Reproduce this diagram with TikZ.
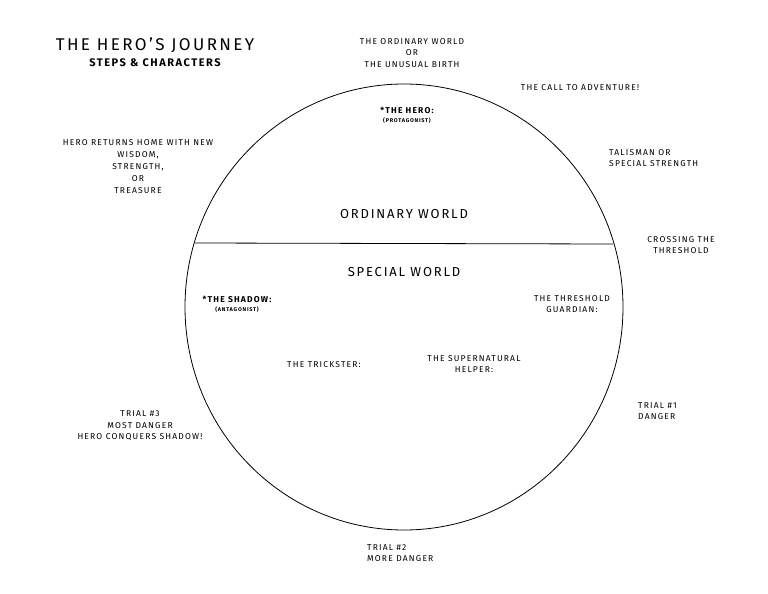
\documentclass[tikz,border=0pt]{standalone}
\usepackage{fontspec}
\setmainfont{Fira Sans}[LetterSpace=14]
\usetikzlibrary{positioning}
\begin{document}
\begin{tikzpicture}[
    x=1pt, y=-1pt,
    note/.style={font=\fontsize{8.5}{11.5}\selectfont, align=center, inner sep=0pt},
    role/.style={font=\fontsize{8.5}{10}\selectfont\bfseries, align=center, inner sep=0pt},
    sub/.style={font=\fontsize{5.5}{6}\selectfont\bfseries, inner sep=0pt},
    world/.style={font=\fontsize{13}{15}\selectfont, inner sep=0pt}
]
    \useasboundingbox (0,0) rectangle (768,594);
    % Circle and divider
    \draw[thick] (404,307) ellipse (219 and 223);
    \coordinate (divl) at (195,243);
    \coordinate (divr) at (613,244);
    \draw[thick] (divl) -- (divr);

    % Title
    \node[inner sep=0pt, font=\fontsize{17}{19}\selectfont] (title) at (155,45) {THE HERO'S JOURNEY};
    \node[inner sep=0pt, font=\fontsize{11}{13}\selectfont\bfseries] (subtitle) at (155,63) {STEPS \& CHARACTERS};

    % Stages around the circle
    \node[note] (ordinary) at (412,53) {THE ORDINARY WORLD\\OR\\THE UNUSUAL BIRTH};
    \node[note] (call) at (580,88) {THE CALL TO ADVENTURE!};
    \node[note, anchor=north west, align=left] (talisman) at (609,149) {TALISMAN OR\\SPECIAL STRENGTH};
    \node[note] (crossing) at (681,245) {CROSSING THE\\THRESHOLD};
    \node[note, anchor=north west, align=left] (trial1) at (638,402) {TRIAL \#1\\DANGER};
    \node[note, anchor=north west, align=left] (trial2) at (367,544) {TRIAL \#2\\MORE DANGER};
    \node[note] (trial3) at (140,426) {TRIAL \#3\\MOST DANGER\\HERO CONQUERS SHADOW!};
    \node[note, font=\fontsize{8.5}{12}\selectfont] (returns) at (138,167) {HERO RETURNS HOME WITH NEW\\WISDOM,\\STRENGTH,\\OR\\TREASURE};

    % Worlds
    \node[world] (ordw) at (404,214) {ORDINARY WORLD};
    \node[world] (specw) at (404,272) {SPECIAL WORLD};

    % Characters
    \node[role] (hero) at (407,110) {*THE HERO:};
    \node[sub, below=4pt of hero] (prot) {(PROTAGONIST)};
    \node[role] (shadow) at (237,299) {*THE SHADOW:};
    \node[sub, below=4pt of shadow] (antag) {(ANTAGONIST)};
    \node[note] (guardian) at (572,304) {THE THRESHOLD\\GUARDIAN:};
    \node[note] (trickster) at (324,365) {THE TRICKSTER:};
    \node[note] (helper) at (474,364) {THE SUPERNATURAL\\HELPER:};
\end{tikzpicture}
\end{document}
